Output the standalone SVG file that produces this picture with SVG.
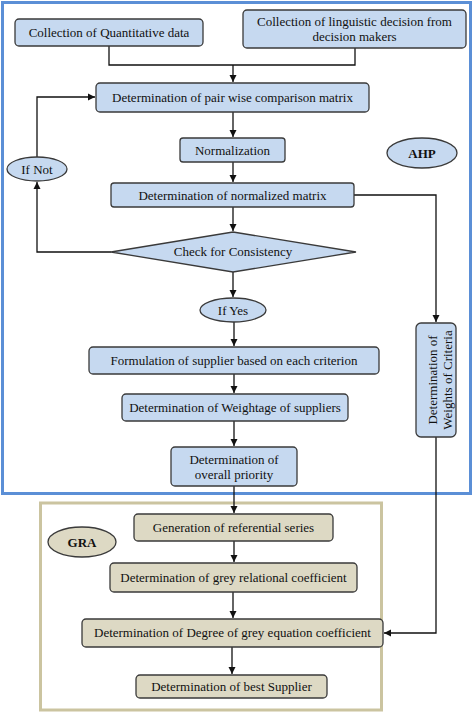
<svg xmlns="http://www.w3.org/2000/svg" width="474" height="713" viewBox="0 0 474 713">
<defs>
<marker id="ah" markerWidth="8" markerHeight="8" refX="7" refY="4" orient="auto" markerUnits="userSpaceOnUse">
<path d="M0,0.5 L7,4 L0,7.5 Z" fill="#111"/>
</marker>
<style>
.b{fill:#c6d9f0;stroke:#3a3a3a;stroke-width:1.3}
.t{fill:#ddd9c4;stroke:#3a3a3a;stroke-width:1.3}
text{font-family:'Liberation Serif','Times New Roman','DejaVu Serif',serif;font-size:13px;fill:#111;text-anchor:middle}
.bold{font-weight:bold}
.c{fill:none;stroke:#111;stroke-width:1.3}
</style>
</defs>
<rect width="474" height="713" fill="#fff"/>
<rect x="2.5" y="2.5" width="468" height="491" fill="none" stroke="#5b8fd6" stroke-width="3"/>
<rect x="40.5" y="503" width="341" height="207" fill="none" stroke="#cbc4a0" stroke-width="3"/>

<g id="connectors">
<path class="c" d="M109,46 V65 H355 V48"/>
<path class="c" d="M233,65 V82" marker-end="url(#ah)"/>
<path class="c" d="M233,112 V137" marker-end="url(#ah)"/>
<path class="c" d="M233,162 V182" marker-end="url(#ah)"/>
<path class="c" d="M233,207 V231" marker-end="url(#ah)"/>
<path class="c" d="M111,252 H37 V182" marker-end="url(#ah)"/>
<path class="c" d="M37,157 V97 H95" marker-end="url(#ah)"/>
<path class="c" d="M233,272 V297" marker-end="url(#ah)"/>
<path class="c" d="M234,322 V346" marker-end="url(#ah)"/>
<path class="c" d="M234,374 V393" marker-end="url(#ah)"/>
<path class="c" d="M234,421 V446" marker-end="url(#ah)"/>
<path class="c" d="M234,486 V513" marker-end="url(#ah)"/>
<path class="c" d="M234,541 V562" marker-end="url(#ah)"/>
<path class="c" d="M233,592 V618" marker-end="url(#ah)"/>
<path class="c" d="M232,647 V674" marker-end="url(#ah)"/>
<path class="c" d="M354,195 H436 V322" marker-end="url(#ah)"/>
<path class="c" d="M436,437 V633 H384" marker-end="url(#ah)"/>
</g>

<g id="n-quant"><rect class="b" x="15" y="19" width="188" height="27" rx="4"/><text font-family="Liberation Serif, serif" x="109" y="37">Collection of Quantitative data</text></g>
<g id="n-ling"><rect class="b" x="243" y="10" width="223" height="38" rx="4"/><text font-family="Liberation Serif, serif" x="354.5" y="26">Collection of linguistic decision from</text><text font-family="Liberation Serif, serif" x="354.5" y="41">decision makers</text></g>
<g id="n-pair"><rect class="b" x="96" y="83" width="273" height="29" rx="4"/><text font-family="Liberation Serif, serif" x="232.5" y="102">Determination of pair wise comparison matrix</text></g>
<g id="n-norm"><rect class="b" x="180" y="138" width="105" height="24" rx="3"/><text font-family="Liberation Serif, serif" x="232.5" y="155">Normalization</text></g>
<g id="n-ahp"><ellipse class="b" cx="422" cy="153" rx="35" ry="15"/><text class="bold" font-family="Liberation Serif, serif" x="422" y="158">AHP</text></g>
<g id="n-ifnot"><ellipse class="b" cx="37" cy="169" rx="30" ry="12"/><text font-family="Liberation Serif, serif" x="37" y="174">If Not</text></g>
<g id="n-normmat"><rect class="b" x="111" y="183" width="243" height="24" rx="3"/><text font-family="Liberation Serif, serif" x="232.5" y="200">Determination of normalized matrix</text></g>
<g id="n-check"><polygon class="b" points="233,232 356,252 233,272 111,252"/><text font-family="Liberation Serif, serif" x="233" y="256">Check for Consistency</text></g>
<g id="n-ifyes"><ellipse class="b" cx="233" cy="310" rx="33" ry="12"/><text font-family="Liberation Serif, serif" x="233" y="315">If Yes</text></g>
<g id="n-form"><rect class="b" x="89" y="347" width="290" height="27" rx="4"/><text font-family="Liberation Serif, serif" x="234" y="365">Formulation of supplier based on each criterion</text></g>
<g id="n-weightage"><rect class="b" x="122" y="394" width="226" height="27" rx="4"/><text font-family="Liberation Serif, serif" x="235" y="412">Determination of Weightage of suppliers</text></g>
<g id="n-overall"><rect class="b" x="171" y="447" width="126" height="39" rx="4"/><text font-family="Liberation Serif, serif" x="234" y="464">Determination of</text><text font-family="Liberation Serif, serif" x="234" y="479">overall priority</text></g>
<g id="n-weights"><rect class="b" x="416" y="323" width="40" height="114" rx="5"/><g transform="translate(436,380) rotate(-90)"><text font-family="Liberation Serif, serif" x="0" y="1">Determination of</text><text font-family="Liberation Serif, serif" x="0" y="16">Weights of Criteria</text></g></g>
<g id="n-gra"><ellipse class="t" cx="82" cy="542" rx="34" ry="15"/><text class="bold" font-family="Liberation Serif, serif" x="82" y="547">GRA</text></g>
<g id="n-ref"><rect class="t" x="134" y="514" width="199" height="27" rx="4"/><text font-family="Liberation Serif, serif" x="233.5" y="532">Generation of referential series</text></g>
<g id="n-grc"><rect class="t" x="110" y="563" width="247" height="29" rx="4"/><text font-family="Liberation Serif, serif" x="233.5" y="582">Determination of grey relational coefficient</text></g>
<g id="n-degree"><rect class="t" x="82" y="619" width="301" height="28" rx="4"/><text font-family="Liberation Serif, serif" x="232.5" y="637">Determination of Degree of grey equation coefficient</text></g>
<g id="n-best"><rect class="t" x="136" y="675" width="191" height="23" rx="4"/><text font-family="Liberation Serif, serif" x="231.5" y="691">Determination of best Supplier</text></g>
</svg>
